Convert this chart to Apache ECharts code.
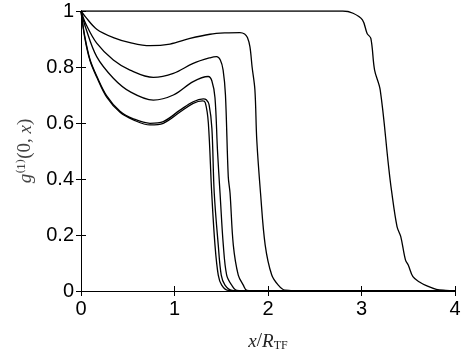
<!DOCTYPE html>
<html>
<head>
<meta charset="utf-8">
<script src="https://cdn.jsdelivr.net/npm/echarts@6/dist/echarts.min.js"></script>
<style>html,body{margin:0;padding:0;background:#fff}#c{width:474px;height:358px}</style>
</head>
<body>
<div id="c"></div>
<script>
// x positions and g1 values per curve
const xA = [0, 2.8, 2.91, 3.01, 3.06, 3.10, 3.14, 3.20, 3.29, 3.32, 3.38, 3.42, 3.47, 3.50, 3.55, 3.62, 3.70, 3.80, 3.90, 4.0];
const yA = [1, 1, 0.992, 0.968, 0.920, 0.902, 0.789, 0.718, 0.444, 0.361, 0.23, 0.194, 0.111, 0.093, 0.051, 0.032, 0.018, 0.006, 0.002, 0];

const xB = [0, 0.05, 0.168, 0.346, 0.524, 0.738, 0.952, 1.166, 1.38, 1.55, 1.70, 1.75, 1.78, 1.807, 1.83, 1.86, 1.88, 1.92, 1.97, 2.04, 2.11, 2.18, 2.4, 4];
const yB = [1, 0.978, 0.935, 0.905, 0.887, 0.876, 0.882, 0.902, 0.917, 0.922, 0.923, 0.918, 0.905, 0.872, 0.80, 0.718, 0.539, 0.35, 0.164, 0.057, 0.021, 0.003, 0, 0];

const xC = [0, 0.05, 0.168, 0.346, 0.524, 0.774, 0.988, 1.2, 1.38, 1.45, 1.49, 1.52, 1.545, 1.575, 1.594, 1.629, 1.682, 1.736, 1.775, 1.9, 4];
const yC = [1, 0.955, 0.885, 0.825, 0.789, 0.763, 0.777, 0.813, 0.833, 0.837, 0.825, 0.789, 0.70, 0.408, 0.35, 0.164, 0.057, 0.021, 0.002, 0, 0];

const xD = [0, 0.05, 0.168, 0.346, 0.524, 0.774, 0.988, 1.2, 1.36, 1.40, 1.433, 1.46, 1.487, 1.522, 1.558, 1.612, 1.668, 1.8, 4];
const yD = [1, 0.94, 0.837, 0.76, 0.712, 0.682, 0.70, 0.748, 0.766, 0.750, 0.69, 0.50, 0.35, 0.164, 0.057, 0.021, 0.002, 0, 0];

const xE = [0, 0.04, 0.096, 0.168, 0.275, 0.417, 0.56, 0.738, 0.88, 1.059, 1.2, 1.308, 1.34, 1.37, 1.40, 1.425, 1.468, 1.50, 1.54, 1.615, 1.75, 4];
const yE = [1, 0.91, 0.827, 0.768, 0.697, 0.642, 0.615, 0.599, 0.605, 0.646, 0.676, 0.686, 0.683, 0.665, 0.58, 0.35, 0.164, 0.057, 0.021, 0.002, 0, 0];

const xF = [0, 0.04, 0.096, 0.168, 0.275, 0.417, 0.56, 0.738, 0.88, 1.059, 1.2, 1.30, 1.33, 1.362, 1.398, 1.433, 1.468, 1.505, 1.572, 1.7, 4];
const yF = [1, 0.905, 0.823, 0.764, 0.692, 0.638, 0.611, 0.593, 0.599, 0.639, 0.67, 0.679, 0.672, 0.60, 0.35, 0.164, 0.057, 0.021, 0.002, 0, 0];

const xTicks = [0, 1, 2, 3, 4];
const yTicks = [0, 0.2, 0.4, 0.6, 0.8, 1];

const curves = [[xA, yA], [xB, yB], [xC, yC], [xD, yD], [xE, yE], [xF, yF]];

const chart = echarts.init(document.getElementById('c'), null, {renderer: 'canvas'});
const axLine = {show: true, lineStyle: {color: '#000', width: 1}};
const tick = {show: true, inside: true, length: 5, lineStyle: {color: '#000', width: 1}};
const lblFont = {color: '#000', fontSize: 20, fontFamily: 'Liberation Sans, Arial, sans-serif'};
const serif = 'Liberation Serif, DejaVu Serif, serif';

chart.setOption({
  animation: false,
  backgroundColor: '#fff',
  grid: {left: 81, right: 19, top: 11, bottom: 67},
  xAxis: [{
    type: 'value', min: xTicks[0], max: xTicks[xTicks.length - 1], interval: 1,
    axisLine: axLine, axisTick: tick, splitLine: {show: false},
    axisLabel: Object.assign({margin: 8}, lblFont),
    name: '{i|x}{n|/}{i|R}{s|TF}', nameLocation: 'middle', nameGap: 40,
    nameTextStyle: {
      rich: {
        i: {fontFamily: serif, fontStyle: 'italic', fontSize: 19, color: '#222'},
        n: {fontFamily: serif, fontSize: 19, color: '#222'},
        s: {fontFamily: serif, fontSize: 12, color: '#222', padding: [9, 0, 0, 0]}
      }
    }
  }, {
    type: 'value', position: 'top', min: 0, max: 4, interval: 1,
    axisLine: axLine, axisTick: tick, axisLabel: {show: false}, splitLine: {show: false}
  }],
  yAxis: [{
    type: 'value', min: yTicks[0], max: yTicks[yTicks.length - 1], interval: 0.2,
    axisLine: axLine, axisTick: tick, splitLine: {show: false},
    axisLabel: Object.assign({margin: 7}, lblFont),
    name: '{i|g}{n|⁽¹⁾(0, }{i|x}{n|)}', nameLocation: 'middle', nameGap: 46,
    nameTextStyle: {
      rich: {
        i: {fontFamily: serif, fontStyle: 'italic', fontSize: 19, color: '#444'},
        n: {fontFamily: serif, fontSize: 19, color: '#444'}
      }
    }
  }, {
    type: 'value', position: 'right', min: 0, max: 1, interval: 0.2,
    axisLine: axLine, axisTick: tick, axisLabel: {show: false}, splitLine: {show: false}
  }],
  series: curves.map(([xs, ys]) => ({
    type: 'line',
    data: xs.map((x, i) => [x, ys[i]]),
    showSymbol: false,
    smooth: 0.35,
    lineStyle: {color: '#000', width: 1.3},
    z: 3
  }))
});
</script>
</body>
</html>
